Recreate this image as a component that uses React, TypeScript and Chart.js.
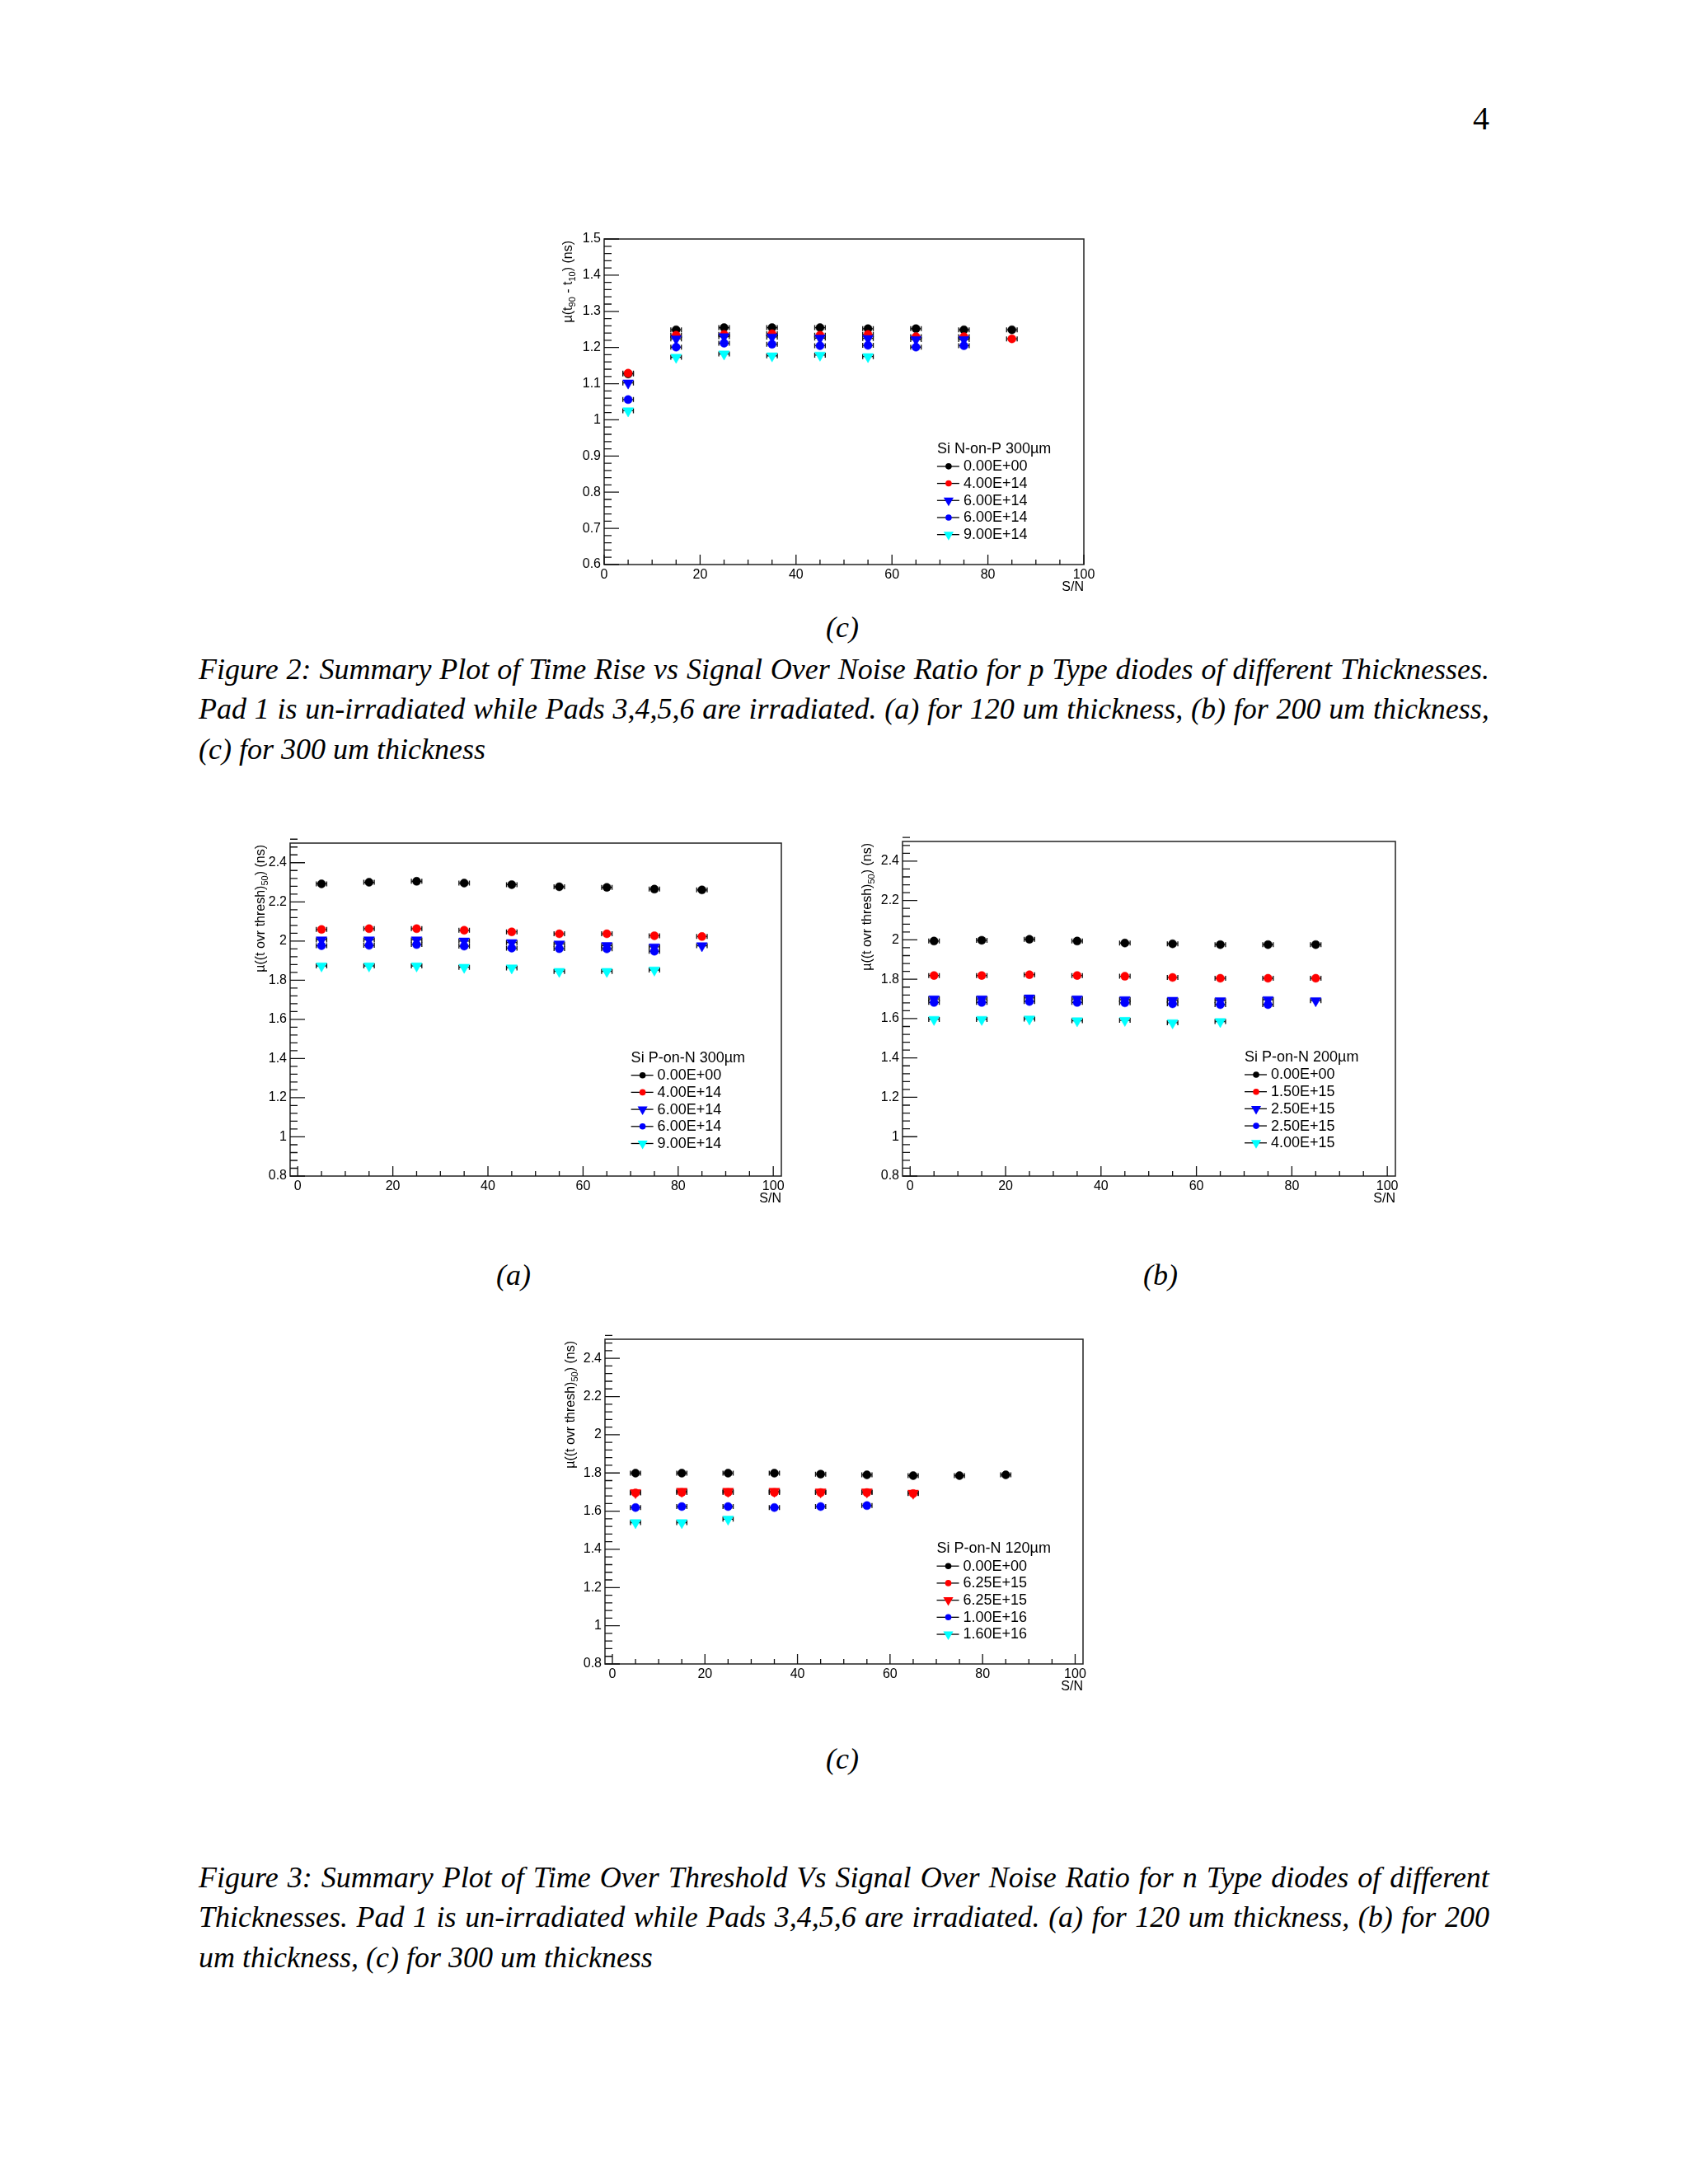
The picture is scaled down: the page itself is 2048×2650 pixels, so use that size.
import React, { useEffect, useRef } from 'react';
import { Chart, registerables } from 'chart.js';
Chart.register(...registerables);

// ---------------- data ----------------
const snBins = [5, 15, 25, 35, 45, 55, 65, 75, 85];
const xErrHalf = 1.1;
const xMajorTicks = [0, 20, 40, 60, 80, 100];

// Figure 2 (c): Si N-on-P 300um, rise time
const f2cTitle = 'Si N-on-P 300µm';
const f2cLabels = ['0.00E+00', '4.00E+14', '6.00E+14', '6.00E+14', '9.00E+14'];
const f2cBlack = [1.127, 1.249, 1.255, 1.255, 1.255, 1.252, 1.252, 1.249, 1.249];
const f2cRed = [1.129, 1.234, 1.236, 1.238, 1.234, 1.236, 1.23, 1.23, 1.224];
const f2cBlueTri = [1.102, 1.224, 1.23, 1.229, 1.226, 1.225, 1.222, 1.222];
const f2cBlueCirc = [1.056, 1.201, 1.212, 1.209, 1.205, 1.206, 1.201, 1.205];
const f2cCyan = [1.025, 1.173, 1.182, 1.177, 1.179, 1.175];
const f2cYTicks = [0.6, 0.7, 0.8, 0.9, 1.0, 1.1, 1.2, 1.3, 1.4, 1.5];

// Figure 3 (a): Si P-on-N 300um, time over threshold
const f3aTitle = 'Si P-on-N 300µm';
const f3aLabels = ['0.00E+00', '4.00E+14', '6.00E+14', '6.00E+14', '9.00E+14'];
const f3aBlack = [2.292, 2.3, 2.305, 2.296, 2.288, 2.277, 2.274, 2.265, 2.261];
const f3aRed = [2.059, 2.063, 2.063, 2.055, 2.047, 2.037, 2.037, 2.027, 2.023];
const f3aBlueTri = [2.006, 2.006, 2.006, 2.0, 1.992, 1.985, 1.977, 1.97, 1.976];
const f3aBlueCirc = [1.976, 1.978, 1.982, 1.974, 1.964, 1.961, 1.96, 1.948];
const f3aCyan = [1.873, 1.873, 1.873, 1.866, 1.863, 1.845, 1.845, 1.852];

// Figure 3 (b): Si P-on-N 200um
const f3bTitle = 'Si P-on-N 200µm';
const f3bLabels = ['0.00E+00', '1.50E+15', '2.50E+15', '2.50E+15', '4.00E+15'];
const f3bBlack = [1.994, 1.998, 2.003, 1.994, 1.984, 1.98, 1.976, 1.976, 1.976];
const f3bRed = [1.819, 1.819, 1.823, 1.819, 1.815, 1.809, 1.805, 1.805, 1.805];
const f3bBlueTri = [1.7, 1.7, 1.705, 1.7, 1.696, 1.693, 1.691, 1.696, 1.691];
const f3bBlueCirc = [1.682, 1.682, 1.687, 1.682, 1.68, 1.675, 1.671, 1.671];
const f3bCyan = [1.596, 1.596, 1.598, 1.589, 1.591, 1.579, 1.585];

// Figure 3 (c): Si P-on-N 120um
const f3cTitle = 'Si P-on-N 120µm';
const f3cLabels = ['0.00E+00', '6.25E+15', '6.25E+15', '1.00E+16', '1.60E+16'];
const f3cBlack = [1.799, 1.799, 1.799, 1.799, 1.794, 1.79, 1.786, 1.786, 1.79];
const f3cRedCirc = [1.695, 1.698, 1.698, 1.698, 1.697, 1.697, 1.692];
const f3cRedTri = [1.697, 1.704, 1.704, 1.704, 1.701, 1.701, 1.694];
const f3cBlueCirc = [1.619, 1.624, 1.624, 1.619, 1.624, 1.629];
const f3cCyan = [1.54, 1.54, 1.558];
const f3YTicks = [0.8, 1.0, 1.2, 1.4, 1.6, 1.8, 2.0, 2.2, 2.4];

// ---------------- styles ----------------
const BLACK = '#000000';
const RED = '#ff0000';
const BLUE = '#0000ff';
const CYAN = '#00ffff';
const SANS = '"Liberation Sans", Arial, sans-serif';
const SERIF = '"Liberation Serif", "Times New Roman", serif';

type Marker = 'circle' | 'tri';
type Series = { label: string; values: number[]; color: string; marker: Marker };
type Piece = { t: string; sub?: boolean };
type Panel = {
  frame: [number, number, number, number];
  xMin: number;
  xMax: number;
  yMin: number;
  yMax: number;
  yTicks: number[];
  yMinorStep: number;
  yTitle: Piece[];
  yTitleOffset: number;
  legendTitle: string;
  series: Series[];
};

const tOverThresh: Piece[] = [
  { t: 'µ((t ovr thresh)' },
  { t: '50', sub: true },
  { t: ') (ns)' },
];

const panels: Panel[] = [
  {
    frame: [733, 290, 582, 395],
    xMin: 0,
    xMax: 100,
    yMin: 0.6,
    yMax: 1.5,
    yTicks: f2cYTicks,
    yMinorStep: 0.02,
    yTitle: [{ t: 'µ(t' }, { t: '90', sub: true }, { t: ' - t' }, { t: '10', sub: true }, { t: ') (ns)' }],
    yTitleOffset: -45,
    legendTitle: f2cTitle,
    series: [
      { label: f2cLabels[0], values: f2cBlack, color: BLACK, marker: 'circle' },
      { label: f2cLabels[1], values: f2cRed, color: RED, marker: 'circle' },
      { label: f2cLabels[2], values: f2cBlueTri, color: BLUE, marker: 'tri' },
      { label: f2cLabels[3], values: f2cBlueCirc, color: BLUE, marker: 'circle' },
      { label: f2cLabels[4], values: f2cCyan, color: CYAN, marker: 'tri' },
    ],
  },
  {
    frame: [352, 1023, 596, 404],
    xMin: -1.6,
    xMax: 101.7,
    yMin: 0.8,
    yMax: 2.5,
    yTicks: f3YTicks,
    yMinorStep: 0.04,
    yTitle: tOverThresh,
    yTitleOffset: -37,
    legendTitle: f3aTitle,
    series: [
      { label: f3aLabels[0], values: f3aBlack, color: BLACK, marker: 'circle' },
      { label: f3aLabels[1], values: f3aRed, color: RED, marker: 'circle' },
      { label: f3aLabels[2], values: f3aBlueTri, color: BLUE, marker: 'tri' },
      { label: f3aLabels[3], values: f3aBlueCirc, color: BLUE, marker: 'circle' },
      { label: f3aLabels[4], values: f3aCyan, color: CYAN, marker: 'tri' },
    ],
  },
  {
    frame: [1095, 1021, 598, 406],
    xMin: -1.6,
    xMax: 101.7,
    yMin: 0.8,
    yMax: 2.5,
    yTicks: f3YTicks,
    yMinorStep: 0.04,
    yTitle: tOverThresh,
    yTitleOffset: -44,
    legendTitle: f3bTitle,
    series: [
      { label: f3bLabels[0], values: f3bBlack, color: BLACK, marker: 'circle' },
      { label: f3bLabels[1], values: f3bRed, color: RED, marker: 'circle' },
      { label: f3bLabels[2], values: f3bBlueTri, color: BLUE, marker: 'tri' },
      { label: f3bLabels[3], values: f3bBlueCirc, color: BLUE, marker: 'circle' },
      { label: f3bLabels[4], values: f3bCyan, color: CYAN, marker: 'tri' },
    ],
  },
  {
    frame: [734, 1625, 580, 394],
    xMin: -1.6,
    xMax: 101.7,
    yMin: 0.8,
    yMax: 2.5,
    yTicks: f3YTicks,
    yMinorStep: 0.04,
    yTitle: tOverThresh,
    yTitleOffset: -43,
    legendTitle: f3cTitle,
    series: [
      { label: f3cLabels[0], values: f3cBlack, color: BLACK, marker: 'circle' },
      { label: f3cLabels[1], values: f3cRedCirc, color: RED, marker: 'circle' },
      { label: f3cLabels[2], values: f3cRedTri, color: RED, marker: 'tri' },
      { label: f3cLabels[3], values: f3cBlueCirc, color: BLUE, marker: 'circle' },
      { label: f3cLabels[4], values: f3cCyan, color: CYAN, marker: 'tri' },
    ],
  },
];

const PL = 100;
const PR = 20;
const PT = 20;
const PB = 50;

function drawMarker(ctx: CanvasRenderingContext2D, m: Marker, color: string, x: number, y: number, r: number) {
  ctx.fillStyle = color;
  ctx.beginPath();
  if (m === 'circle') {
    ctx.arc(x, y, r, 0, Math.PI * 2);
  } else {
    ctx.moveTo(x, y + r);
    ctx.lineTo(x - r * 0.866, y - r / 2);
    ctx.lineTo(x + r * 0.866, y - r / 2);
    ctx.closePath();
  }
  ctx.fill();
}

function makeDeco(p: Panel) {
  return {
    id: 'rootDeco',
    beforeDatasetsDraw(chart: any) {
      const ctx: CanvasRenderingContext2D = chart.ctx;
      const xs = chart.scales.x;
      const ys = chart.scales.y;
      ctx.save();
      ctx.strokeStyle = '#111';
      ctx.lineWidth = 1.3;
      chart.data.datasets.forEach((ds: any) => {
        ds.data.forEach((pt: any) => {
          const y = ys.getPixelForValue(pt.y);
          const x1 = xs.getPixelForValue(pt.x - xErrHalf);
          const x2 = xs.getPixelForValue(pt.x + xErrHalf);
          ctx.beginPath();
          ctx.moveTo(x1, y);
          ctx.lineTo(x2, y);
          ctx.moveTo(x1, y - 3);
          ctx.lineTo(x1, y + 3);
          ctx.moveTo(x2, y - 3);
          ctx.lineTo(x2, y + 3);
          ctx.stroke();
        });
      });
      ctx.restore();
    },
    afterDraw(chart: any) {
      const ctx: CanvasRenderingContext2D = chart.ctx;
      const a = chart.chartArea;
      const xs = chart.scales.x;
      const ys = chart.scales.y;
      const w = a.right - a.left;
      const h = a.bottom - a.top;
      ctx.save();
      // frame
      ctx.strokeStyle = '#222';
      ctx.lineWidth = 1.5;
      ctx.strokeRect(a.left, a.top, w, h);
      // y ticks
      ctx.lineWidth = 1.3;
      ctx.strokeStyle = '#111';
      const n = Math.round((p.yMax - p.yMin) / p.yMinorStep);
      ctx.beginPath();
      for (let i = 0; i <= n; i++) {
        const v = p.yMin + i * p.yMinorStep;
        const major = p.yTicks.some((t) => Math.abs(t - v) < 1e-6);
        const py = ys.getPixelForValue(v);
        ctx.moveTo(a.left, py);
        ctx.lineTo(a.left + (major ? 18 : 9), py);
      }
      // x ticks
      for (let v = 0; v <= 100; v += 5) {
        const major = v % 20 === 0;
        const px = xs.getPixelForValue(v);
        ctx.moveTo(px, a.bottom);
        ctx.lineTo(px, a.bottom - (major ? 12 : 6));
      }
      ctx.stroke();

      // x title
      ctx.fillStyle = '#000';
      ctx.font = `16px ${SANS}`;
      ctx.textAlign = 'right';
      ctx.textBaseline = 'middle';
      ctx.fillText('S/N', a.right, a.bottom + 28);

      // y title (rotated, aligned to top end)
      const fs = 16;
      const fsSub = 11;
      const widths = p.yTitle.map((pc) => {
        ctx.font = `${pc.sub ? fsSub : fs}px ${SANS}`;
        return ctx.measureText(pc.t).width;
      });
      const total = widths.reduce((s, v) => s + v, 0);
      ctx.save();
      ctx.translate(a.left + p.yTitleOffset, a.top + 2 + total);
      ctx.rotate(-Math.PI / 2);
      ctx.textAlign = 'left';
      ctx.textBaseline = 'alphabetic';
      let cx = 0;
      p.yTitle.forEach((pc, i) => {
        ctx.font = `${pc.sub ? fsSub : fs}px ${SANS}`;
        ctx.fillText(pc.t, cx, fs * 0.36 + (pc.sub ? 4.5 : 0));
        cx += widths[i];
      });
      ctx.restore();

      // legend
      const x0 = a.left + 0.694 * w;
      const y0 = a.top + 0.646 * h;
      ctx.font = `18px ${SANS}`;
      ctx.textAlign = 'left';
      ctx.textBaseline = 'middle';
      ctx.fillStyle = '#000';
      ctx.fillText(p.legendTitle, x0, y0);
      p.series.forEach((s, i) => {
        const y = y0 + 20.7 * (i + 1);
        ctx.strokeStyle = '#000';
        ctx.lineWidth = 1.3;
        ctx.beginPath();
        ctx.moveTo(x0, y);
        ctx.lineTo(x0 + 27, y);
        ctx.stroke();
        drawMarker(ctx, s.marker, s.color, x0 + 14, y, s.marker === 'tri' ? 7 : 3.8);
        ctx.fillStyle = '#000';
        ctx.fillText(s.label, x0 + 32, y + 0.5);
      });
      ctx.restore();
    },
  };
}

function PanelChart({ p }: { p: Panel }) {
  const ref = useRef<HTMLCanvasElement | null>(null);
  const [fl, ft, fw, fh] = p.frame;
  const W = fw + PL + PR;
  const H = fh + PT + PB;
  useEffect(() => {
    if (!ref.current) return;
    const datasets = p.series.map((s, i) => ({
      label: s.label,
      data: s.values.map((v, j) => ({ x: snBins[j], y: v })),
      pointStyle: s.marker === 'tri' ? 'triangle' : 'circle',
      pointRotation: s.marker === 'tri' ? 180 : 0,
      pointRadius: s.marker === 'tri' ? 7.5 : 5,
      pointBackgroundColor: s.color,
      pointBorderColor: s.color,
      pointBorderWidth: 0.5,
      backgroundColor: s.color,
      borderColor: s.color,
      showLine: false,
      order: p.series.length - i,
    }));
    const tickFont = { family: SANS, size: 16 };
    const chart = new Chart(ref.current, {
      type: 'scatter',
      data: { datasets },
      plugins: [makeDeco(p)],
      options: {
        responsive: false,
        animation: false,
        devicePixelRatio: 1,
        events: [],
        layout: { padding: { top: PT, right: PR, left: 0, bottom: 0 } },
        plugins: { legend: { display: false }, tooltip: { enabled: false } },
        scales: {
          x: {
            type: 'linear',
            min: p.xMin,
            max: p.xMax,
            afterBuildTicks: (s: any) => {
              s.ticks = xMajorTicks.map((v) => ({ value: v }));
            },
            afterFit: (s: any) => {
              s.height = PB;
            },
            grid: { display: false, drawTicks: false },
            border: { display: false },
            ticks: {
              font: tickFont,
              color: '#000',
              padding: 3,
              maxRotation: 0,
              autoSkip: false,
              callback: (v: any) => String(v),
            },
          },
          y: {
            type: 'linear',
            min: p.yMin,
            max: p.yMax,
            afterBuildTicks: (s: any) => {
              s.ticks = p.yTicks.map((v) => ({ value: v }));
            },
            afterFit: (s: any) => {
              s.width = PL;
            },
            grid: { display: false, drawTicks: false },
            border: { display: false },
            ticks: {
              font: tickFont,
              color: '#000',
              padding: 4,
              autoSkip: false,
              callback: (v: any) => String(parseFloat(Number(v).toFixed(2))),
            },
          },
        },
      } as any,
    } as any);
    return () => chart.destroy();
  }, [p]);
  return (
    <canvas
      ref={ref}
      width={W}
      height={H}
      style={{ position: 'absolute', left: fl - PL, top: ft - PT, width: W, height: H }}
    />
  );
}

// ---------------- page text ----------------
const CAP_FS = 36;
const fig2Lines = [
  'Figure 2: Summary Plot of Time Rise vs Signal Over Noise Ratio for p Type diodes of different Thicknesses.',
  'Pad 1 is un-irradiated while Pads 3,4,5,6 are irradiated. (a) for 120 um thickness, (b) for 200 um thickness,',
  '(c) for 300 um thickness',
];
const fig3Lines = [
  'Figure 3: Summary Plot of Time Over Threshold Vs Signal Over Noise Ratio for n Type diodes of different',
  'Thicknesses. Pad 1 is un-irradiated while Pads 3,4,5,6 are irradiated. (a) for 120 um thickness, (b) for 200',
  'um thickness, (c) for 300 um thickness',
];

function CaptionLine({ text, baseline, justify }: { text: string; baseline: number; justify: boolean }) {
  const words = text.split(' ');
  const top = baseline - 0.8375 * CAP_FS;
  const common: React.CSSProperties = {
    position: 'absolute',
    left: 241,
    top,
    width: 1566,
    fontFamily: SERIF,
    fontStyle: 'italic',
    fontSize: CAP_FS,
    lineHeight: `${CAP_FS}px`,
    color: '#000',
    whiteSpace: 'nowrap',
  };
  if (!justify) return <div style={common}>{text}</div>;
  return (
    <div style={{ ...common, display: 'flex', justifyContent: 'space-between' }}>
      {words.map((w, i) => (
        <span key={i} style={{ flexShrink: 0 }}>
          {w}
        </span>
      ))}
    </div>
  );
}

function SubLabel({ text, cx, baseline }: { text: string; cx: number; baseline: number }) {
  return (
    <div
      style={{
        position: 'absolute',
        left: cx - 100,
        width: 200,
        top: baseline - 0.8375 * CAP_FS,
        textAlign: 'center',
        fontFamily: SERIF,
        fontStyle: 'italic',
        fontSize: CAP_FS,
        lineHeight: `${CAP_FS}px`,
        color: '#000',
      }}
    >
      {text}
    </div>
  );
}

export default function App() {
  return (
    <div style={{ position: 'absolute', left: 0, top: 0, width: 2048, height: 2650, background: '#fff' }}>
      <div
        style={{
          position: 'absolute',
          left: 1787,
          top: 157 - 0.8375 * 40,
          fontFamily: SERIF,
          fontSize: 40,
          lineHeight: '40px',
          color: '#000',
        }}
      >
        4
      </div>
      {panels.map((p, i) => (
        <PanelChart key={i} p={p} />
      ))}
      <SubLabel text="(c)" cx={1022} baseline={773} />
      {fig2Lines.map((t, i) => (
        <CaptionLine key={'a' + i} text={t} baseline={824 + i * 48.5} justify={i < 2} />
      ))}
      <SubLabel text="(a)" cx={623} baseline={1559} />
      <SubLabel text="(b)" cx={1408} baseline={1559} />
      <SubLabel text="(c)" cx={1022} baseline={2146} />
      {fig3Lines.map((t, i) => (
        <CaptionLine key={'b' + i} text={t} baseline={2290 + i * 48.5} justify={i < 2} />
      ))}
    </div>
  );
}
